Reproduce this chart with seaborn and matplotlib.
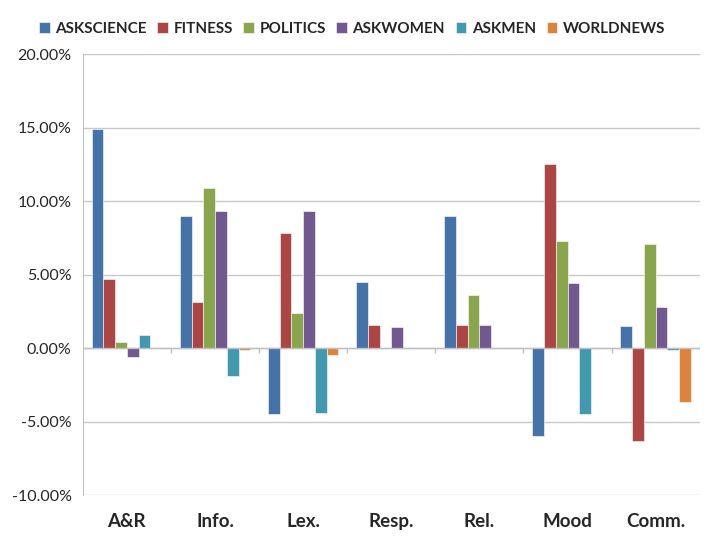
import pandas as pd
import matplotlib.pyplot as plt
import seaborn as sns
from matplotlib.ticker import FuncFormatter, MultipleLocator

categories = ["A&R", "Info.", "Lex.", "Resp.", "Rel.", "Mood", "Comm."]
subreddits = ["ASKSCIENCE", "FITNESS", "POLITICS", "ASKWOMEN", "ASKMEN", "WORLDNEWS"]

askscience = [14.9, 9.0, -4.5, 4.5, 9.0, -6.0, 1.5]
fitness = [4.7, 3.1, 7.8, 1.6, 1.6, 12.5, -6.3]
politics = [0.4, 10.9, 2.4, 0.0, 3.6, 7.3, 7.1]
askwomen = [-0.6, 9.3, 9.3, 1.4, 1.6, 4.4, 2.8]
askmen = [0.9, -1.9, -4.4, 0.0, 0.0, -4.5, -0.1]
worldnews = [0.0, -0.1, -0.5, 0.0, 0.0, 0.0, -3.7]

colors = ["#4572A7", "#AA4643", "#89A54E", "#71588F", "#4198AF", "#DB843D"]

series = [askscience, fitness, politics, askwomen, askmen, worldnews]
rows = []
for name, vals in zip(subreddits, series):
    for cat, v in zip(categories, vals):
        rows.append({"Category": cat, "Subreddit": name, "Value": v})
df = pd.DataFrame(rows)

sns.set_style("white")
plt.rcParams['font.family'] = ['Lato', 'DejaVu Sans']

fig = plt.figure(figsize=(7.14, 5.41), dpi=100)
ax = fig.add_axes([0.116, 0.085, 0.864, 0.815])

sns.barplot(data=df, x="Category", y="Value", hue="Subreddit", order=categories,
            hue_order=subreddits, palette=colors, width=0.8, saturation=1, ax=ax,
            edgecolor="white", linewidth=0.4, legend=True)

ax.set_ylim(-10, 20)
ax.set_xlim(-0.5, len(categories) - 0.5)
ax.yaxis.set_major_locator(MultipleLocator(5))
ax.yaxis.set_major_formatter(FuncFormatter(lambda v, p: f"{v:.2f}%"))
ax.grid(axis="y", color="#c8c8c8", linewidth=1)
ax.set_axisbelow(True)
ax.set_xlabel("")
ax.set_ylabel("")

for s in ["top", "right", "bottom"]:
    ax.spines[s].set_visible(False)
ax.spines["left"].set_color("#c0c0c0")

# category axis at zero with boundary ticks
ax.axhline(0, color="#c0c0c0", linewidth=1, zorder=1)
ax.vlines([i + 0.5 for i in range(len(categories))], -0.35, 0, color="#c0c0c0", linewidth=1)

ax.tick_params(axis="x", length=0, pad=13, labelsize=13.5)
ax.tick_params(axis="y", length=0, pad=8, labelsize=11.5)
for t in ax.get_xticklabels():
    t.set_fontweight("bold")

handles, labels = ax.get_legend_handles_labels()
ax.legend_.remove()
leg = fig.legend(handles, labels, loc="upper center", bbox_to_anchor=(0.493, 0.985), ncol=6,
                 frameon=False, handlelength=0.7, handleheight=0.7, handletextpad=0.35,
                 columnspacing=0.7, prop={"weight": "bold", "size": 11})

plt.savefig("out.png", dpi=100)
